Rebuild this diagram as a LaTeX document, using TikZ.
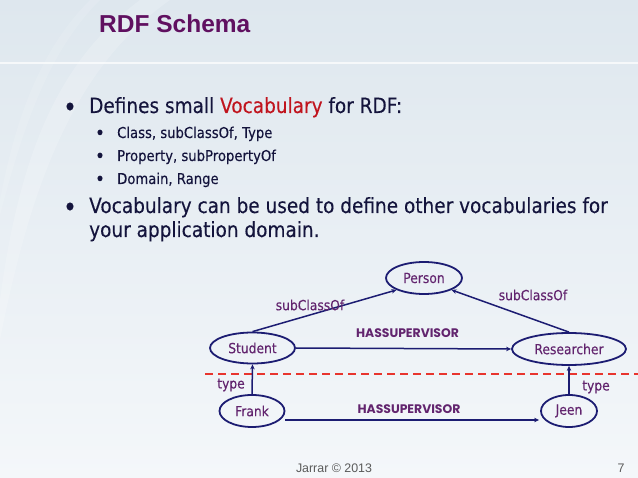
\documentclass[tikz,border=0pt]{standalone}
\usepackage{fontspec}
\setmainfont{Liberation Sans}
\newfontfamily\tah[FakeStretch=0.88,FakeBold=0.18]{DejaVu Sans}
\newfontfamily\comicf{Poppins}
\newfontfamily\arialf{Liberation Sans}
\usetikzlibrary{shapes.geometric,arrows.meta}
\definecolor{titlepurple}{RGB}{96,16,96}
\definecolor{bodynavy}{RGB}{20,20,60}
\definecolor{vocred}{RGB}{192,20,30}
\definecolor{nodepurple}{RGB}{98,36,110}
\definecolor{edgenavy}{RGB}{28,28,114}
\definecolor{dashred}{RGB}{232,53,46}
\definecolor{footgray}{RGB}{90,90,90}
\definecolor{bgtop}{RGB}{222,231,238}
\definecolor{bgbot}{RGB}{244,247,250}
\begin{document}
\begin{tikzpicture}[x=1pt,y=-1pt,
  titletext/.style={anchor=base west,inner sep=0pt,text=titlepurple,font=\arialf\bfseries\fontsize{24.5}{28}\selectfont},
  btext/.style={anchor=base west,inner sep=0pt,text=bodynavy,font=\tah\fontsize{21}{25}\selectfont},
  bbul/.style={anchor=base,inner sep=0pt,text=bodynavy,font=\tah\fontsize{27}{30}\selectfont},
  stext/.style={anchor=base west,inner sep=0pt,text=bodynavy,font=\tah\fontsize{15}{18}\selectfont},
  sbul/.style={anchor=base,inner sep=0pt,text=bodynavy,font=\tah\fontsize{19}{22}\selectfont},
  cls/.style={ellipse,draw=edgenavy,line width=1.8pt,inner sep=0pt,text=nodepurple,font=\tah\fontsize{14}{16}\selectfont},
  elabel/.style={inner sep=0pt,text=nodepurple,font=\tah\fontsize{14}{16}\selectfont},
  proplabel/.style={inner sep=0pt,text=nodepurple,font=\comicf\bfseries\fontsize{12.4}{14}\selectfont},
  rel/.style={draw=edgenavy,line width=1.5pt,-{Stealth[length=5pt,width=4.5pt]}},
  footer/.style={inner sep=0pt,text=footgray,font=\arialf\fontsize{12.4}{14}\selectfont}]
\useasboundingbox (0,0) rectangle (638,478);
% background
\shade[top color=bgtop,bottom color=bgbot] (0,0) rectangle (638,478);
\fill[white,opacity=0.18] (0,300) .. controls (20,150) and (60,60) .. (140,0) -- (170,0) .. controls (85,60) and (35,160) .. (0,340) -- cycle;
\fill[white,opacity=0.12] (0,200) .. controls (15,120) and (40,50) .. (90,0) -- (100,0) .. controls (50,50) and (25,120) .. (0,215) -- cycle;
\draw[white,opacity=0.7,line width=1.2pt] (0,63) -- (638,63);
% title
\node[titletext] (title) at (99,32.5) {RDF Schema};
% bullets
\node[bbul] (b1) at (70,116.5) {•};
\node[btext] (l1) at (89,113) {Defines small \textcolor{vocred}{Vocabulary} for RDF:};
\node[sbul] (s1b) at (100,139.5) {•};
\node[stext] (s1) at (117,138) {Class, subClassOf, Type};
\node[sbul] (s2b) at (100,162.5) {•};
\node[stext] (s2) at (117,161) {Property, subPropertyOf};
\node[sbul] (s3b) at (100,185.5) {•};
\node[stext] (s3) at (117,184) {Domain, Range};
\node[bbul] (b2) at (70,216.5) {•};
\node[btext] (l2) at (89,213) {Vocabulary can be used to define other vocabularies for};
\node[btext] (l3) at (89,237) {your application domain.};
% diagram nodes
\node[cls,minimum width=76pt,minimum height=32pt] (person) at (424,278) {Person};
\node[cls,minimum width=85pt,minimum height=31pt] (student) at (252.5,348) {Student};
\node[cls,minimum width=114pt,minimum height=32pt] (researcher) at (569,349) {Researcher};
\node[cls,minimum width=65pt,minimum height=32pt] (frank) at (252,411) {Frank};
\node[cls,minimum width=56pt,minimum height=32pt] (jeen) at (569,411) {Jeen};
% dashed separator
\coordinate (dl) at (205,374);
\coordinate (dr) at (638,374);
\draw[dashred,line width=2pt,dash pattern=on 8pt off 5pt] (dl) -- (dr);
% connectors
\draw[rel] (student.north) -- (person.south west);
\draw[rel] (researcher.north) -- (person.south east);
\draw[rel] (student.east) -- (researcher.west);
\draw[rel] (frank.north) -- (student.south);
\draw[rel] (jeen.north) -- (researcher.south);
\draw[rel] ([yshift=-9pt]frank.east) -- ([yshift=-9pt,xshift=-1pt]jeen.west);
% labels
\node[elabel] (lsc1) at (310,305) {subClassOf};
\node[elabel] (lsc2) at (533,295) {subClassOf};
\node[proplabel] (lhs1) at (407.5,333) {HASSUPERVISOR};
\node[proplabel] (lhs2) at (409,409) {HASSUPERVISOR};
\node[elabel] (lt1) at (231,385) {type};
\node[elabel] (lt2) at (596,387) {type};
% footer
\node[footer] (foot) at (334,468) {Jarrar © 2013};
\node[footer] (pno) at (621,468) {7};
\end{tikzpicture}
\end{document}
